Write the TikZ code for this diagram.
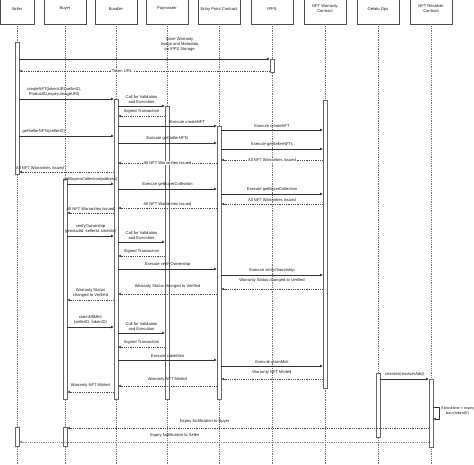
\documentclass[tikz,border=0pt]{standalone}
\usepackage{fontspec}
\setmainfont{Liberation Sans}
\usetikzlibrary{arrows.meta, positioning, calc}

\begin{document}
\begin{tikzpicture}[x=1pt, y=-1pt,
    every node/.style={font=\fontsize{4.1}{5}\selectfont, text=black!90},
    head/.style={draw=black!70, fill=white, minimum width=42pt, minimum height=30pt, inner sep=1pt, align=center},
    life/.style={draw=black!55, dash pattern=on 0.8pt off 1pt, line width=0.5pt},
    bar/.style={draw=black!60, fill=white, minimum width=4pt, inner sep=0pt, anchor=north, line width=0.5pt},
    call/.style={draw=black!80, line width=0.65pt, -{Triangle[length=2.6pt, width=2.4pt]}},
    ret/.style={draw=black!70, line width=0.55pt, dash pattern=on 1pt off 0.8pt, -{Triangle[length=2.6pt, width=2.4pt]}},
    lbl/.style={above=1.8pt, inner sep=0.5pt, align=center},
    inl/.style={fill=white, inner sep=0.6pt}
  ]
  \useasboundingbox (0,0) rectangle (474,465);
  % lifeline heads
  \node[head, minimum width=34pt] (seller) at (17,9)  {Seller};
  \node[head] (buyer)    at (65,9)  {Buyer};
  \node[head] (bundler)  at (116,9) {Bundler};
  \node[head] (paymaster) at (167,9) {Paymaster};
  \node[head] (entry)    at (219,9) {Entry Point Contract};
  \node[head] (ipfs)     at (272,9) {IPFS};
  \node[head] (warranty) at (325,9) {NFT Warranty\\Contract};
  \node[head] (gelato)   at (378,9) {Gelato Ops};
  \node[head] (resolver) at (431,9) {NFT Resolver\\Contract};
  \foreach \n in {seller, buyer, bundler, paymaster, entry, ipfs, warranty, gelato, resolver}
    \draw[life] (\n.south) -- (\n.south |- 0,465);
  % activation bars
  \node[bar, minimum height=132pt] (sellerA) at (seller.south |- 0,42) {};
  \node[bar, minimum height=13pt]  (ipfsA) at (ipfs.south |- 0,59) {};
  \node[bar, minimum height=300pt] (bundA) at (bundler.south |- 0,99) {};
  \node[bar, minimum height=288pt] (nftA) at (warranty.south |- 0,100) {};
  \node[bar, minimum height=293pt] (payA) at (paymaster.south |- 0,106) {};
  \node[bar, minimum height=273pt] (epA) at (entry.south |- 0,126) {};
  \node[bar, minimum height=220pt] (buyA) at (buyer.south |- 0,179) {};
  \node[bar, minimum height=64pt]  (gelA) at (gelato.south |- 0,373) {};
  \node[bar, minimum height=68pt]  (resA) at (resolver.south |- 0,379) {};
  \node[bar, minimum height=19pt]  (buyB) at (buyer.south |- 0,427) {};
  \node[bar, minimum height=19pt]  (sellerB) at (seller.south |- 0,427) {};
  % storing metadata
  \draw[call] (sellerA.east |- 0,59) -- node[lbl, pos=.64, above=7pt] {Store Warranty\\image and Metadata\\on IPFS Storage} (ipfsA.west |- 0,59);
  \draw[ret] (ipfsA.west |- 0,71) -- node[inl, pos=.59] {Token URL} (sellerA.east |- 0,71);
  % createNFT
  \draw[call] (sellerA.east |- 0,99) -- node[lbl, pos=.37] {createNFT(tokenURI,sellerID,\\ProductID,expiry,imageURI)} (bundA.west |- 0,99);
  \draw[call] (bundA.east |- 0,106) -- node[lbl] {Call for Validation\\and Execution} (payA.west |- 0,106);
  \draw[ret] (payA.west |- 0,116) -- node[lbl] {Signed Transaction} (bundA.east |- 0,116);
  \draw[call] (bundA.east |- 0,126) -- node[lbl, pos=.7] {Execute createNFT} (epA.west |- 0,126);
  \draw[call] (epA.east |- 0,130) -- node[lbl] {Execute createNFT} (nftA.west |- 0,130);
  % seller collection
  \draw[call] (sellerA.east |- 0,136) -- node[lbl, pos=.26] {getSellerNFTs(sellerID)} (bundA.west |- 0,136);
  \draw[call] (bundA.east |- 0,143) -- node[lbl] {Execute getSellerNFTs} (epA.west |- 0,143);
  \draw[call] (epA.east |- 0,149) -- node[lbl] {Execute getSellerNFTs} (nftA.west |- 0,149);
  \draw[ret] (nftA.west |- 0,160) -- node[inl] {All NFT Warranties Issued} (epA.east |- 0,160);
  \draw[ret] (epA.west |- 0,163) -- node[inl] {All NFT Warranties Issued} (bundA.east |- 0,163);
  \draw[ret] (bundA.west |- 0,172) -- node[lbl, pos=.78] {All NFT Warranties Issued} (sellerA.east |- 0,172);
  % buyer collection
  \draw[call] (buyA.east |- 0,184) -- node[lbl] {getBuyersCollection(address)} (bundA.west |- 0,184);
  \draw[call] (bundA.east |- 0,189) -- node[lbl] {Execute getBuyerCollection} (epA.west |- 0,189);
  \draw[call] (epA.east |- 0,194) -- node[lbl] {Execute getBuyerCollection} (nftA.west |- 0,194);
  \draw[ret] (nftA.west |- 0,204) -- node[lbl] {All NFT Warranties Issued} (epA.east |- 0,204);
  \draw[ret] (epA.west |- 0,208) -- node[lbl] {All NFT Warranties Issued} (bundA.east |- 0,208);
  \draw[ret] (bundA.west |- 0,213) -- node[lbl] {All NFT Warranties Issued} (buyA.east |- 0,213);
  % verifyOwnership
  \draw[call] (buyA.east |- 0,236) -- node[lbl] {verifyOwnership\\(productId, sellerId, tokenId)} (bundA.west |- 0,236);
  \draw[call] (bundA.east |- 0,242) -- node[lbl] {Call for Validation\\and Execution} (payA.west |- 0,242);
  \draw[ret] (payA.west |- 0,256) -- node[lbl] {Signed Transaction} (bundA.east |- 0,256);
  \draw[call] (bundA.east |- 0,269) -- node[lbl] {Execute verifyOwnership} (epA.west |- 0,269);
  \draw[call] (epA.east |- 0,275) -- node[lbl] {Execute verifyOwnership} (nftA.west |- 0,275);
  \draw[ret] (nftA.west |- 0,289) -- node[lbl, above=6pt] {Warranty Status changed to Verified} (epA.east |- 0,289);
  \draw[ret] (epA.west |- 0,294) -- node[lbl, above=5pt] {Warranty Status changed to Verified} (bundA.east |- 0,294);
  \draw[ret] (bundA.west |- 0,300) -- node[lbl] {Warranty Status\\changed to Verified} (buyA.east |- 0,300);
  % claimNftMint
  \draw[call] (buyA.east |- 0,327) -- node[lbl] {claimNftMint\\(sellerID, tokenID)} (bundA.west |- 0,327);
  \draw[call] (bundA.east |- 0,333) -- node[lbl] {Call for Validation\\and Execution} (payA.west |- 0,333);
  \draw[ret] (payA.west |- 0,347) -- node[lbl] {Signed Transaction} (bundA.east |- 0,347);
  \draw[call] (bundA.east |- 0,360) -- node[lbl] {Execute claimMint} (epA.west |- 0,360);
  \draw[call] (epA.east |- 0,366) -- node[lbl] {Execute claimMint} (nftA.west |- 0,366);
  \draw[ret] (nftA.west |- 0,379) -- node[lbl, above=4pt] {Warranty NFT Minted} (epA.east |- 0,379);
  \draw[ret] (epA.west |- 0,386) -- node[lbl, above=4pt] {Warranty NFT Minted} (bundA.east |- 0,386);
  \draw[ret] (bundA.west |- 0,392) -- node[lbl, above=4pt] {Warranty NFT Minted} (buyA.east |- 0,392);
  % expiry check
  \draw[call] (gelA.east |- 0,379) -- node[lbl] {checker(resolverAdd)} (resA.west |- 0,379);
  \draw[call] (resA.east |- 0,407) -- ++(6,0) node[anchor=north west, align=center, inner sep=0.5pt, xshift=1pt, yshift=1pt, font=\fontsize{3.7}{4.6}\selectfont] (burnNote) {If blocktime > expiry\\burn(tokenID)} |- (resA.east |- 0,419);
  \draw[ret] (resA.west |- 0,428) -- node[lbl, pos=.62, above=4pt] {Expiry Notification to Buyer} (buyB.east |- 0,428);
  \draw[ret, draw=black!45] (resA.west |- 0,442) -- node[lbl, pos=.62, above=4pt] {Expiry Notification to Seller} (sellerB.east |- 0,442);
\end{tikzpicture}
\end{document}
